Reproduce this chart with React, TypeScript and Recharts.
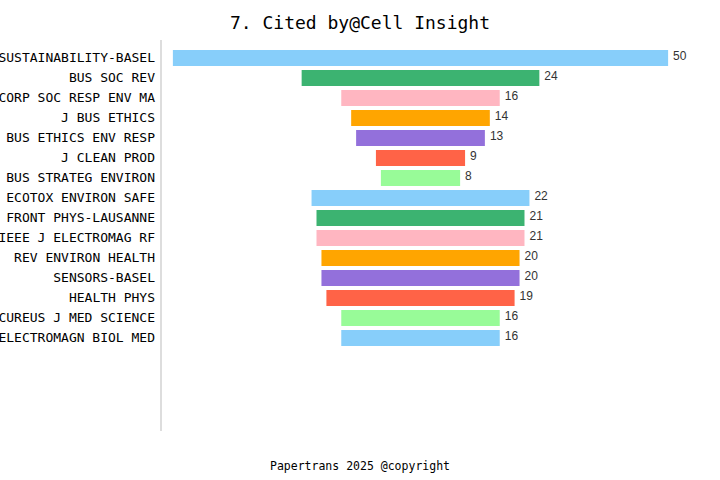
import React from 'react';
import { BarChart, Bar, XAxis, YAxis, Cell, LabelList } from 'recharts';

const journals = [
  'SUSTAINABILITY-BASEL',
  'BUS SOC REV',
  'CORP SOC RESP ENV MA',
  'J BUS ETHICS',
  'BUS ETHICS ENV RESP',
  'J CLEAN PROD',
  'BUS STRATEG ENVIRON',
  'ECOTOX ENVIRON SAFE',
  'FRONT PHYS-LAUSANNE',
  'IEEE J ELECTROMAG RF',
  'REV ENVIRON HEALTH',
  'SENSORS-BASEL',
  'HEALTH PHYS',
  'CUREUS J MED SCIENCE',
  'ELECTROMAGN BIOL MED',
];

const citations = [50, 24, 16, 14, 13, 9, 8, 22, 21, 21, 20, 20, 19, 16, 16];

const palette = ['#87CEFA', '#3CB371', '#FFB6C1', '#FFA500', '#9370DB', '#FF6347', '#98FB98'];

const title = '7. Cited by@Cell Insight';
const footer = 'Papertrans 2025 @copyright';

const data = journals.map((name, i) => ({
  name,
  value: citations[i],
  range: [-citations[i] / 2, citations[i] / 2],
}));

const MONO = '"DejaVu Sans Mono", monospace';

const JournalTick = (props: any) => {
  const { x, y, payload } = props;
  return (
    <text x={x} y={y} dy={3.5} textAnchor="end" fontSize={13} fontFamily={MONO} fill="#000">
      {payload.value}
    </text>
  );
};

const ValueLabel = (props: any) => {
  const { x, y, width, height, value } = props;
  const right = Math.max(Number(x), Number(x) + Number(width));
  return (
    <text
      x={right + 5}
      y={Number(y) + Number(height) / 2 + 2}
      textAnchor="start"
      fontSize={12}
      fontFamily='"Liberation Sans", Arial, sans-serif'
      fill="#333"
    >
      {value}
    </text>
  );
};

export default function App() {
  return (
    <div style={{ position: 'absolute', left: 0, top: 0, width: 720, height: 480, background: '#fff' }}>
      <BarChart
        width={720}
        height={480}
        data={data}
        layout="vertical"
        margin={{ top: 40, right: 40, bottom: 49, left: 0 }}
        barCategoryGap={2}
      >
        <XAxis type="number" hide domain={[-26.2, 26.2]} />
        <YAxis
          type="category"
          dataKey="name"
          width={161}
          padding={{ top: 8, bottom: 83 }}
          interval={0}
          tickLine={false}
          tickSize={4}
          tickMargin={2}
          axisLine={{ stroke: '#dddddd', strokeWidth: 2 }}
          tick={<JournalTick />}
        />
        <Bar dataKey="range" barSize={16} isAnimationActive={false}>
          {data.map((d, i) => (
            <Cell key={d.name} fill={palette[i % palette.length]} />
          ))}
          <LabelList dataKey="value" content={<ValueLabel />} />
        </Bar>
      </BarChart>
      <svg
        width={720}
        height={480}
        style={{ position: 'absolute', left: 0, top: 0, pointerEvents: 'none' }}
      >
        <text x={360} y={29} textAnchor="middle" fontSize={18} fontFamily={MONO} fill="#000">
          {title}
        </text>
        <text x={360} y={470} textAnchor="middle" fontSize={11.5} fontFamily={MONO} fill="#000">
          {footer}
        </text>
      </svg>
    </div>
  );
}
